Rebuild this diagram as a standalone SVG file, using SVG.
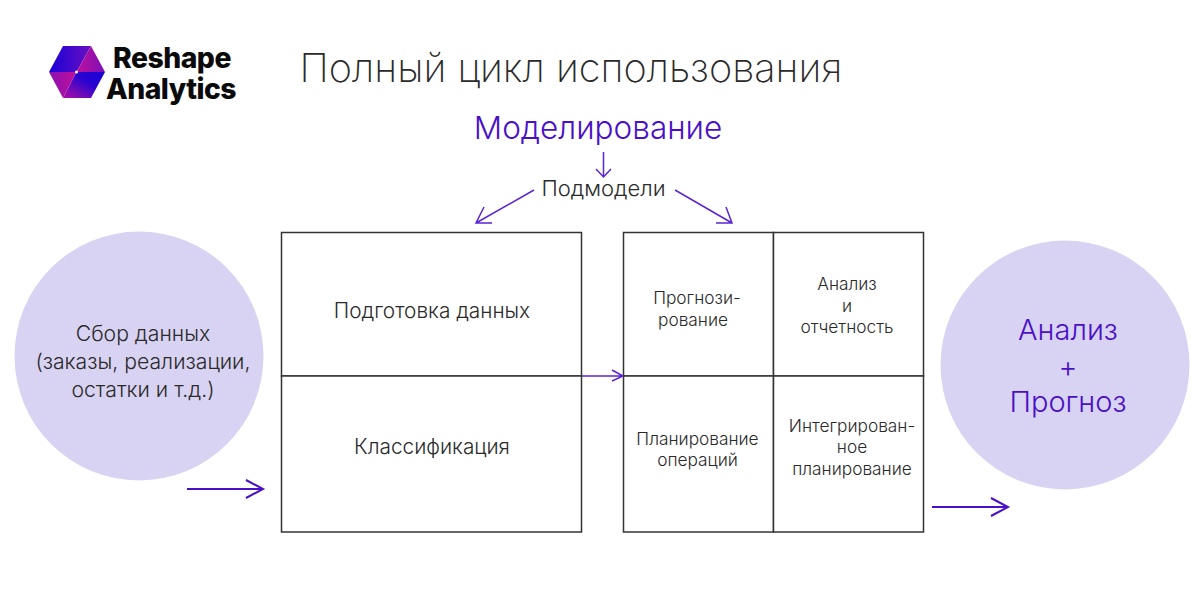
<svg xmlns="http://www.w3.org/2000/svg" width="1200" height="595" viewBox="0 0 1200 595">
<style>
text{font-family:"Inter","Liberation Sans",sans-serif;font-weight:300;text-anchor:middle;fill:#2a2a2a}
.c{fill:#d9d3f3}
.b{fill:#fff;stroke:#333;stroke-width:1.5}
.a{fill:none;stroke:#5a25d6;stroke-width:1.5}
.a2{fill:none;stroke:#4a10c8;stroke-width:2}
.s{font-size:17.300px}
.m{font-size:20.800px}
.n{font-size:21.200px}
.r{font-size:29px;fill:#4a10c8}
.k{font-size:28.300px;font-weight:800;fill:#0a0a0a;letter-spacing:-.5px}
</style>
<defs>
<linearGradient id="g1" x1="0" y1="0" x2="1" y2="0"><stop offset="0" stop-color="#1a00d8"/><stop offset="1" stop-color="#6a10c0"/></linearGradient>
<linearGradient id="g2" x1="0" y1="0" x2="1" y2="0"><stop offset="0" stop-color="#c0109c"/><stop offset="1" stop-color="#7a10b8"/></linearGradient>
<linearGradient id="g3" x1="0" y1="0" x2="1" y2="0"><stop offset="0" stop-color="#8a10b0"/><stop offset="1" stop-color="#c0109c"/></linearGradient>
<linearGradient id="g4" x1="0" y1="1" x2="1" y2="0"><stop offset="0" stop-color="#b010a4"/><stop offset="0.6" stop-color="#2a04d0"/><stop offset="1" stop-color="#1a00d8"/></linearGradient>
</defs>
<g id="logo">
<polygon points="63,46 91,46 76.5,72 49,72" fill="url(#g1)"/>
<polygon points="91,46 105,72 76.5,72" fill="url(#g2)"/>
<polygon points="49,72 76.5,72 63,98" fill="url(#g3)"/>
<polygon points="76.5,72 105,72 91,98 63,98" fill="url(#g4)"/>
<circle cx="76.5" cy="72" r="1.5" fill="#fff"/>
<text class="k" x="172" y="68">Reshape</text>
<text class="k" x="171" y="99">Analytics</text>
</g>
<text id="title" x="571" y="82" style="font-size:39.700px;font-weight:200">Полный цикл использования</text>
<text id="modeling" x="598" y="139" style="font-size:31.500px;fill:#4a10c8">Моделирование</text>
<text id="submodels" x="603.500" y="196" style="font-size:22px">Подмодели</text>
<g id="collect">
<circle class="c" cx="139" cy="356" r="124.500"/>
<text class="n" x="143" y="341">Сбор данных</text>
<text class="n" x="143" y="369">(заказы, реализации,</text>
<text class="n" x="143" y="397">остатки и т.д.)</text>
</g>
<g id="prep">
<rect class="b" x="281.500" y="232.500" width="300" height="143.500"/>
<text class="m" x="432" y="318">Подготовка данных</text>
</g>
<g id="class">
<rect class="b" x="281.500" y="376" width="300" height="156"/>
<text class="m" x="432" y="454">Классификация</text>
</g>
<g id="forecast">
<rect class="b" x="623.500" y="232.500" width="150" height="143.500"/>
<text class="s" x="697" y="304">Прогнози-</text>
<text class="s" x="693" y="326">рование</text>
</g>
<g id="report">
<rect class="b" x="773.500" y="232.500" width="150" height="143.500"/>
<text class="s" x="847" y="290">Анализ</text>
<text class="s" x="847" y="312">и</text>
<text class="s" x="847" y="333">отчетность</text>
</g>
<g id="plan">
<rect class="b" x="623.500" y="376" width="150" height="156"/>
<text class="s" x="697.500" y="445">Планирование</text>
<text class="s" x="697.500" y="466">операций</text>
</g>
<g id="integrated">
<rect class="b" x="773.500" y="376" width="150" height="156"/>
<text class="s" x="852" y="432">Интегрирован-</text>
<text class="s" x="852" y="453">ное</text>
<text class="s" x="852" y="475">планирование</text>
</g>
<g id="result">
<circle class="c" cx="1065" cy="365" r="124.500"/>
<text class="r" x="1068" y="340">Анализ</text>
<text class="r" x="1068" y="377">+</text>
<text class="r" x="1068" y="412">Прогноз</text>
</g>
<g id="connectors">
<path class="a" d="M603.500 152V177M596 169L603.500 177L611 169"/>
<path class="a" d="M534 190L476 223M492 223H476L484 207"/>
<path class="a" d="M675 190L732 223M716 223H732L726 207"/>
<path class="a" d="M582 376H623M612 370L623 376L612 381"/>
<path class="a2" d="M187 489H263M246 480L263 489L246 498"/>
<path class="a2" d="M932 507H1008M991 498L1008 507L991 516"/>
</g>
</svg>
